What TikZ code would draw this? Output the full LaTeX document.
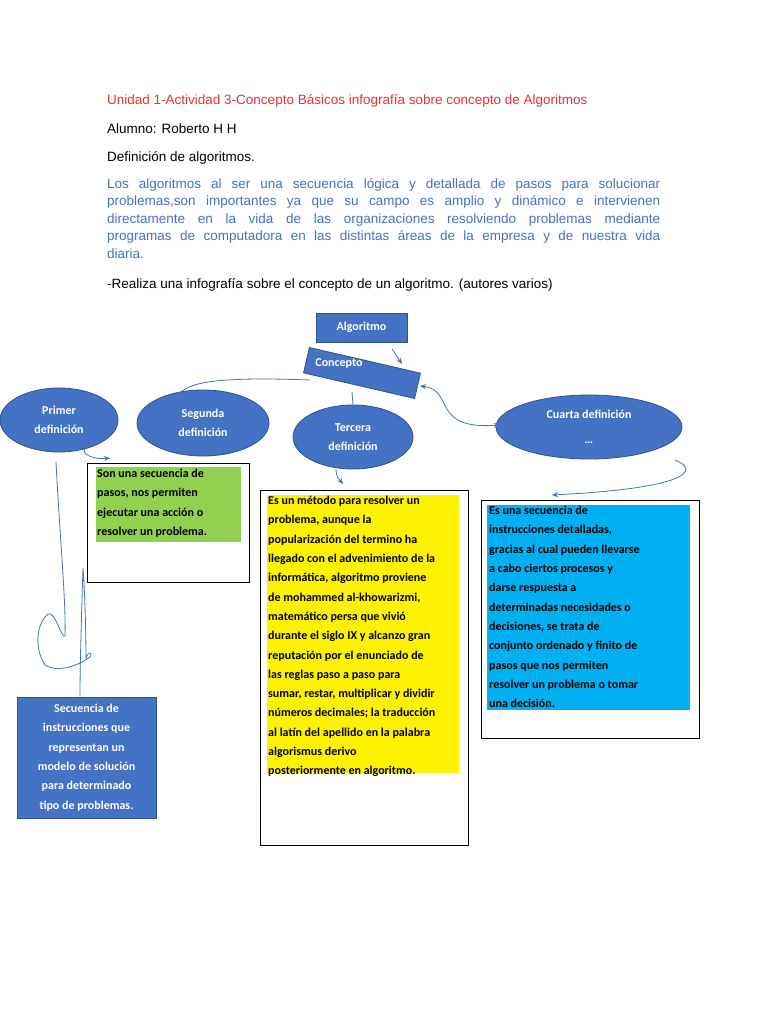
\documentclass[tikz,border=0pt]{standalone}
\usepackage{fontspec}
\setmainfont{Liberation Sans}
\newfontfamily\calf{Carlito}
\usetikzlibrary{arrows.meta,shapes.geometric}
\definecolor{ublue}{HTML}{4472C4}
\definecolor{dblue}{HTML}{2F528F}
\definecolor{ugreen}{HTML}{92D050}
\definecolor{ucyan}{HTML}{00B0F0}
\definecolor{ured}{HTML}{E8322E}
\begin{document}
\begin{tikzpicture}[x=1pt,y=-1pt,
  hdr/.style={anchor=west,inner sep=0,font=\fontsize{13.5}{17}\selectfont},
  ell/.style={ellipse,draw=dblue,fill=ublue,line width=0.8pt,inner sep=0,font=\calf\bfseries\fontsize{12}{19}\selectfont,text=white,align=center},
  frame/.style={draw=black,line width=0.8pt,fill=white},
  btxt/.style={anchor=north west,inner sep=0,align=left,font=\calf\bfseries\fontsize{12}{19.3}\selectfont},
  conn/.style={draw=ublue,line width=0.8pt},
  arr/.style={conn,-{Stealth[length=6pt,width=5pt]}}]
\useasboundingbox (0,0) rectangle (768,1024);
\fill[white] (0,0) rectangle (768,1024);
\node[hdr,text=ured] (t1) at (107,101) {Unidad 1-Actividad 3-Concepto Básicos infografía sobre concepto de Algoritmos};
\node[hdr] (t2) at (107,129) {Alumno: Roberto H H};
\node[hdr] (t3) at (107,158) {Definición de algoritmos.};
\node[anchor=north west,inner sep=0,text width=553pt,align=justify,text=ublue,font=\fontsize{13.5}{17.6}\selectfont] (par) at (107,178)
 {Los algoritmos al ser una secuencia lógica y detallada de pasos para solucionar\linebreak problemas,son importantes ya que su campo es amplio y dinámico e intervienen\linebreak directamente en la vida de las organizaciones resolviendo problemas mediante\linebreak programas de computadora en las distintas áreas de la empresa y de nuestra vida\linebreak diaria.};
\node[hdr] (t4) at (107,285) {-Realiza una infografía sobre el concepto de un algoritmo. (autores varios)};
% Algoritmo
\node[draw=dblue,fill=ublue,line width=0.8pt,minimum width=91pt,minimum height=29pt,text=white,font=\calf\bfseries\fontsize{12}{14}\selectfont] (alg) at (361.5,327.5) {Algoritmo};
% Concepto rotated
\node[draw=dblue,fill=ublue,line width=0.8pt,minimum width=114pt,minimum height=26pt,rotate=-13,inner sep=0] (con) at (362,373) {};
\node[text=white,font=\calf\bfseries\fontsize{12}{14}\selectfont,inner sep=0] (conl) at (339,364) {Concepto};
\coordinate (a1) at (392,349);
\draw[arr] (a1) -- (402,364);
% ellipses
\node[ell,minimum width=118pt,minimum height=64pt] (e1) at (59,420) {Primer\\definición};
\node[ell,minimum width=132pt,minimum height=66pt] (e2) at (203,423) {Segunda\\definición};
\node[ell,minimum width=120pt,minimum height=64pt] (e3) at (353,437) {Tercera\\definición};
\node[ell,minimum width=186pt,minimum height=64pt] (e4) at (589,427) {Cuarta definición\\[6pt]…};
% connectors
\draw[conn] (172,397) .. controls (190,390) and (178,375) .. (310,380);
\draw[conn] (352,392) -- (353,405);
\draw[conn,{Stealth[length=6pt,width=5pt]}-{Stealth[length=6pt,width=5pt]}] (420,386) .. controls (455,390) and (430,430) .. (500,425);
\draw[arr] (98,441) .. controls (70,450) and (90,460) .. (110,458);
% boxes
\draw[frame] (87,463) rectangle (249,582);
\fill[ugreen] (96,467) rectangle (241,542);
\node[btxt] (g) at (97,469) {Son una secuencia de\\pasos, nos permiten\\ejecutar una acción o\\resolver un problema.};
\draw[arr] (336,469) .. controls (336,478) and (340,480) .. (343,484);
\draw[frame] (260,490) rectangle (468,845);
\fill[yellow] (267,495) rectangle (459,773);
\node[btxt] (y) at (268,496) {Es un método para resolver un\\problema, aunque la\\popularización del termino ha\\llegado con el advenimiento de la\\informática, algoritmo proviene\\de mohammed al-khowarizmi,\\matemático persa que vivió\\durante el siglo IX y alcanzo gran\\reputación por el enunciado de\\las reglas paso a paso para\\sumar, restar, multiplicar y dividir\\números decimales; la traducción\\al latín del apellido en la palabra\\algorismus derivo\\posteriormente en algoritmo.};
\draw[arr] (675,460) .. controls (700,470) and (690,488) .. (552,495);
\draw[frame] (481,500) rectangle (699,738);
\fill[ucyan] (487,505) rectangle (690,710);
\node[btxt] (c) at (489,506) {Es una secuencia de\\instrucciones detalladas,\\gracias al cual pueden llevarse\\a cabo ciertos procesos y\\darse respuesta a\\determinadas necesidades o\\decisiones, se trata de\\conjunto ordenado y finito de\\pasos que nos permiten\\resolver un problema o tomar\\una decisión.};
\node[draw=dblue,fill=ublue,line width=0.8pt,minimum width=139pt,minimum height=121pt,text=white,align=center,font=\calf\bfseries\fontsize{12}{19.3}\selectfont] (b) at (86.5,757.5) {Secuencia de\\instrucciones que\\representan un\\modelo de solución\\para determinado\\tipo de problemas.};
% squiggle
\draw[conn] (56,462) .. controls (60,540) and (66,600) .. (65,636)
  .. controls (62,640) and (55,610) .. (48,614)
  .. controls (35,625) and (35,650) .. (45,665)
  .. controls (55,672) and (75,668) .. (90,657)
  .. controls (94,650) and (86,652) .. (86,660)
  .. controls (86,620) and (84,580) .. (83,568)
  .. controls (82,600) and (80,660) .. ([xshift=-6.5pt]b.north);
\end{tikzpicture}
\end{document}
